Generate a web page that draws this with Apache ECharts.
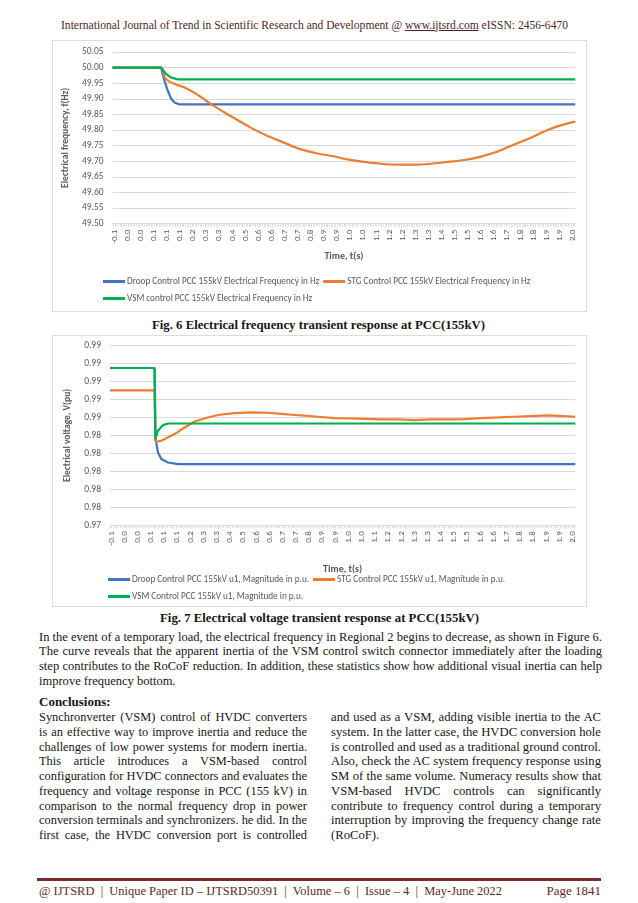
<!DOCTYPE html>
<html><head><meta charset="utf-8">
<script src="https://cdn.jsdelivr.net/npm/echarts@6/dist/echarts.min.js"></script>
<style>
html,body{margin:0;padding:0;background:#fff;}
body{width:638px;height:903px;position:relative;overflow:hidden;font-family:"Liberation Serif","Times New Roman",serif;}
.t{position:absolute;white-space:pre;}
.box{position:absolute;border:1px solid #dcdcdc;box-sizing:border-box;background:#fff;}
.rule{position:absolute;}
</style></head><body>
<div id="c1" class="box" style="left:52px;top:40px;width:535px;height:272px;"></div>
<div id="c2" class="box" style="left:52px;top:335px;width:535px;height:272px;"></div>
<div class="rule" style="left:37px;top:877.5px;width:564px;height:3px;background:#7b2c2c;"></div>
<script>
// ---------- data ----------
const tickLabels = ['-0.1','0.0','0.0','0.1','0.1','0.1','0.2','0.3','0.3','0.4','0.5','0.6','0.6','0.7','0.7','0.8','0.9','0.9',
  '1.0','1.0','1.1','1.2','1.2','1.3','1.3','1.4','1.5','1.5','1.6','1.6','1.7','1.8','1.8','1.9','1.9','2.0'];

// Fig. 6 : [sample position (label slot), frequency Hz]
const droopFreq = [[-0.15,50.000],[3.56,50.000],[3.82,49.957],[4.08,49.925],[4.33,49.900],[4.58,49.888],[4.96,49.882],[35.2,49.882]];
const stgFreq = [[-0.15,50.000],[3.56,50.000],[3.85,49.968],[4.2,49.955],[4.7,49.946],[5.3,49.937],[6.0,49.922],[6.7,49.903],
  [7.4,49.882],[8.66,49.850],[10.44,49.807],[11.71,49.781],[12.98,49.759],[14.25,49.738],[15.53,49.725],[16.7,49.716],
  [17.9,49.705],[19.08,49.698],[20.36,49.692],[21.63,49.689],[22.90,49.689],[24.18,49.692],[25.45,49.698],[26.72,49.704],
  [27.99,49.715],[29.27,49.731],[30.53,49.754],[31.81,49.775],[33.08,49.800],[34.35,49.818],[35.2,49.827]];
const vsmFreq = [[-0.15,50.000],[3.56,50.000],[3.95,49.979],[4.33,49.968],[4.84,49.9625],[35.2,49.9625]];

// Fig. 7 : [sample position (label slot), voltage p.u.]
const droopVolt = [[-0.1,0.99149],[3.28,0.99149],[3.36,0.98358],[3.54,0.98209],[3.79,0.98136],[4.30,0.98098],[5.06,0.98080],[35.2,0.98080]];
const stgVolt = [[-0.1,0.98900],[3.28,0.98900],[3.36,0.98328],[3.79,0.98339],[4.80,0.98414],[5.56,0.98487],[6.32,0.98554],
  [7.33,0.98599],[8.09,0.98626],[9.35,0.98648],[10.61,0.98655],[11.88,0.98651],[13.14,0.98637],[14.41,0.98621],[15.67,0.98607],
  [16.93,0.98592],[18.20,0.98588],[19.20,0.98584],[20.47,0.98577],[21.74,0.98577],[23.0,0.98570],[24.26,0.98577],[25.53,0.98577],
  [26.79,0.98581],[28.05,0.98592],[29.32,0.98599],[30.58,0.98607],[31.84,0.98614],[33.11,0.98621],[34.37,0.98614],[35.2,0.98607]];
const vsmVolt = [[-0.1,0.99149],[3.28,0.99149],[3.33,0.98358],[3.54,0.98451],[3.92,0.98514],[4.30,0.98532],[35.2,0.98532]];

const freqNames = ['Droop Control PCC 155kV Electrical Frequency in Hz','STG Control PCC 155kV Electrical Frequency in Hz','VSM control PCC 155kV Electrical Frequency in Hz'];
const voltNames = ['Droop Control PCC 155kV u1, Magnitude in p.u.','STG Control PCC 155kV u1, Magnitude in p.u.','VSM Control PCC 155kV u1, Magnitude in p.u.'];
const colors = ['#4472C4','#ED7D31','#00B050'];

// ---------- charts ----------
const FONT = 'Carlito, Calibri, Lato, sans-serif';
const GRAY = '#595959';
const labelIdx = tickLabels.map((_, i) => i);
const fineTicks = [];
for (let i = 0; i < tickLabels.length * 8; i++) fineTicks.push(-0.1 + i / 8);

function makeOption(c) {
  return {
    animation: false,
    textStyle: {fontFamily: FONT},
    grid: c.grid,
    legend: [
      {data: c.names.slice(0, 2), left: c.legLeft, top: c.leg1, icon: 'rect', itemWidth: 22, itemHeight: 3, itemGap: 4,
       textStyle: {color: GRAY, fontSize: 9.2, fontFamily: FONT, padding: [0, 0, 0, -3]}},
      {data: c.names.slice(2), left: c.legLeft, top: c.leg2, icon: 'rect', itemWidth: 22, itemHeight: 3,
       textStyle: {color: GRAY, fontSize: 9.2, fontFamily: FONT, padding: [0, 0, 0, -3]}}
    ],
    xAxis: {
      type: 'value', min: c.xmin, max: 35.2,
      name: 'Time, t(s)', nameLocation: 'middle', nameGap: c.xNameGap,
      nameTextStyle: {color: GRAY, fontWeight: 'bold', fontSize: 10, fontFamily: FONT},
      axisLine: {show: true, lineStyle: {color: '#d9d9d9', width: 1}},
      axisTick: {show: true, customValues: fineTicks.filter(v => v >= c.xmin && v <= 35.2), length: 3, lineStyle: {color: '#e2e2e2'}},
      axisLabel: {customValues: labelIdx, formatter: v => tickLabels[Math.round(v)], rotate: 90, margin: 6,
        color: GRAY, fontSize: 9, fontFamily: FONT},
      splitLine: {show: false}
    },
    yAxis: {
      type: 'value', min: c.ymin, max: c.ymax, interval: c.yint,
      name: c.yName, nameLocation: 'middle', nameGap: c.yNameGap,
      nameTextStyle: {color: GRAY, fontWeight: 'bold', fontSize: 9.5, fontFamily: FONT},
      axisLine: {show: false}, axisTick: {show: false},
      axisLabel: {formatter: v => v.toFixed(2), color: GRAY, fontSize: 9.5, fontFamily: FONT, margin: 9},
      splitLine: {lineStyle: {color: '#d9d9d9', width: 1}}
    },
    series: c.data.map((d, i) => ({
      name: c.names[i], type: 'line', data: d, showSymbol: false, symbol: 'none',
      smooth: c.smooth[i], color: colors[i], lineStyle: {width: 2.2, color: colors[i]}, z: 2 + i
    }))
  };
}

echarts.init(document.getElementById('c1')).setOption(makeOption({
  grid: {left: 59, top: 11, width: 463.3, height: 171.7},
  xmin: -0.15, ymin: 49.5, ymax: 50.05, yint: 0.05,
  yName: 'Electrical frequency, f(Hz)', yNameGap: 28, xNameGap: 28,
  names: freqNames, data: [droopFreq, stgFreq, vsmFreq], smooth: [false, 0.3, false],
  legLeft: 45, leg1: 231, leg2: 248
}));
echarts.init(document.getElementById('c2')).setOption(makeOption({
  grid: {left: 57, top: 9.4, width: 465.3, height: 179.9},
  xmin: -0.1, ymin: 0.974, ymax: 0.994, yint: 0.002,
  yName: 'Electrical voltage, V(pu)', yNameGap: 37, xNameGap: 39,
  names: voltNames, data: [droopVolt, stgVolt, vsmVolt], smooth: [false, false, false],
  legLeft: 50, leg1: 234, leg2: 251
}));

// ---------- page text ----------
function mk(html, size, bold, color, y) {
  const el = document.createElement('div');
  el.className = 't';
  el.innerHTML = html;
  el.style.fontSize = size + 'px';
  el.style.lineHeight = size + 'px';
  el.style.fontWeight = bold ? 'bold' : 'normal';
  el.style.color = color;
  el.style.top = (y - size / 2) + 'px';
  document.body.appendChild(el);
  return el;
}
function fitLine(html, o) {
  const el = mk(html, o.size, o.bold, o.color, o.y);
  const w = el.getBoundingClientRect().width;
  el.style.transformOrigin = '0 50%';
  if (o.mode === 'fit') { el.style.left = o.x + 'px'; el.style.transform = 'scaleX(' + (o.w / w) + ')'; }
  else if (o.mode === 'right') { el.style.left = (o.x - w) + 'px'; }
  else { el.style.left = o.x + 'px'; }
}
function block(lines, o) {
  const els = lines.map((s, k) => mk(s, o.size, o.bold, o.color, o.y0 + k * o.dy));
  const ws = els.map(e => e.getBoundingClientRect().width);
  let s = 1;
  lines.forEach((_, k) => { if (k < lines.length - 1 || o.justifyLast) s = Math.min(s, o.w / ws[k]); });
  els.forEach((e, k) => {
    e.style.left = o.x + 'px';
    e.style.transformOrigin = '0 50%';
    e.style.transform = 'scaleX(' + s + ')';
    if (k < lines.length - 1 || o.justifyLast) {
      const n = (lines[k].match(/ /g) || []).length;
      if (n) e.style.wordSpacing = ((o.w / s - ws[k]) / n) + 'px';
    }
  });
}
const INK = '#161616';
fitLine('International Journal of Trend in Scientific Research and Development @ <u>www.ijtsrd.com</u> eISSN: 2456-6470',
  {size: 13, color: '#4a2828', y: 24, x: 61, w: 507, mode: 'fit'});
fitLine('Fig. 6 Electrical frequency transient response at PCC(155kV)', {size: 13, bold: true, color: INK, y: 324, x: 152, w: 333, mode: 'fit'});
fitLine('Fig. 7 Electrical voltage transient response at PCC(155kV)', {size: 13, bold: true, color: INK, y: 617, x: 160, w: 319, mode: 'fit'});
block([
  'In the event of a temporary load, the electrical frequency in Regional 2 begins to decrease, as shown in Figure 6.',
  'The curve reveals that the apparent inertia of the VSM control switch connector immediately after the loading',
  'step contributes to the RoCoF reduction. In addition, these statistics show how additional visual inertia can help',
  'improve frequency bottom.'
], {size: 13, color: INK, x: 39, w: 563, y0: 636, dy: 14.75});
fitLine('Conclusions:', {size: 13, bold: true, color: INK, y: 701, x: 39, mode: 'left'});
block([
  'Synchronverter (VSM) control of HVDC converters',
  'is an effective way to improve inertia and reduce the',
  'challenges of low power systems for modern inertia.',
  'This article introduces a VSM-based control',
  'configuration for HVDC connectors and evaluates the',
  'frequency and voltage response in PCC (155 kV) in',
  'comparison to the normal frequency drop in power',
  'conversion terminals and synchronizers. he did. In the',
  'first case, the HVDC conversion port is controlled'
], {size: 13, color: INK, x: 39, w: 268, y0: 716.7, dy: 14.75, justifyLast: true});
block([
  'and used as a VSM, adding visible inertia to the AC',
  'system. In the latter case, the HVDC conversion hole',
  'is controlled and used as a traditional ground control.',
  'Also, check the AC system frequency response using',
  'SM of the same volume. Numeracy results show that',
  'VSM-based HVDC controls can significantly',
  'contribute to frequency control during a temporary',
  'interruption by improving the frequency change rate',
  '(RoCoF).'
], {size: 13, color: INK, x: 331, w: 270, y0: 716.7, dy: 14.75});
fitLine('@ IJTSRD  |  Unique Paper ID \u2013 IJTSRD50391  |  Volume \u2013 6  |  Issue \u2013 4  |  May-June 2022',
  {size: 13, color: '#5a2a2a', y: 890, x: 39, w: 463, mode: 'fit'});
fitLine('Page 1841', {size: 13, color: '#5a2a2a', y: 890, x: 601, mode: 'right'});
</script>
</body></html>
